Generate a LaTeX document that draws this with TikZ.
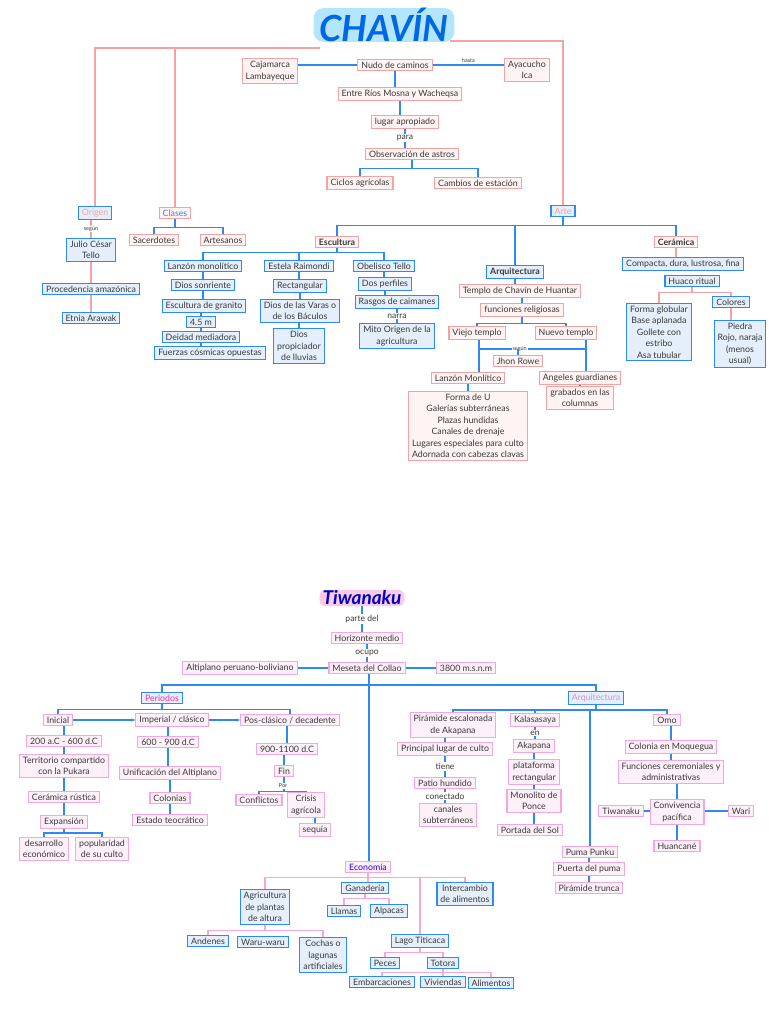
\documentclass[tikz,border=0pt]{standalone}
\usepackage{fontspec}
\setmainfont{Lato}
\usetikzlibrary{arrows.meta}
\definecolor{cpkd}{HTML}{F4A3A3}\definecolor{cpkf}{HTML}{FFF3F3}
\definecolor{cbld}{HTML}{2F8AF0}\definecolor{cblf}{HTML}{E4EFFB}
\definecolor{tpkd}{HTML}{F5A6DA}\definecolor{tpkf}{HTML}{FDF0F8}
\definecolor{txt}{HTML}{3A3A3A}
\tikzset{
 box/.style={draw,line width=1.1pt,inner xsep=3.5pt,inner ysep=2.5pt,align=center,text=txt,font=\fontsize{8.8}{11.5}\selectfont},
 cpk/.style={box,draw=cpkd,fill=cpkf},
 cbl/.style={box,draw=cbld,fill=cblf},
 tpk/.style={box,draw=tpkd,fill=tpkf},
 lbl/.style={text=txt,font=\fontsize{8.5}{10}\selectfont,inner sep=1pt},
 slbl/.style={text=txt,font=\fontsize{5.5}{6}\selectfont,inner sep=1pt,fill=white},
 pl/.style={draw=cpkd,line width=1.1pt},
 bl/.style={draw=cbld,line width=1.1pt},
 tl/.style={draw=tpkd,line width=1.1pt},
}
\newcommand\vl[3]{\draw[#1] (#2) -- (#2|-#3.north);}
\begin{document}
\begin{tikzpicture}[x=1pt,y=-1pt]
\useasboundingbox[fill=white] (0,0) rectangle (768,1024);
% ================= CHAVIN =================
\node[fill=cyan!30!white,rounded corners=10pt,inner xsep=6pt,inner ysep=0pt,text=blue!55!cyan!90!black,font=\fontsize{36}{40}\selectfont\bfseries\itshape] (chavin) at (384,25) {CHAVÍN};
\coordinate (tla) at (320,48);
\coordinate (tra) at (450,41);
\node[cpk] (caj) at (270,71) {Cajamarca\\Lambayeque};
\node[cpk] (nudo) at (395,65) {Nudo de caminos};
\node[cpk] (aya) at (527,70) {Ayacucho\\Ica};
\node[cpk] (rios) at (400,94) {Entre Ríos Mosna y Wacheqsa};
\node[cpk] (lugar) at (405,122) {lugar apropiado};
\node[cpk] (obs) at (412,154) {Observación de astros};
\node[cpk] (ciclos) at (360,183) {Ciclos agrícolas};
\node[cpk] (camb) at (478,183) {Cambios de estación};
\draw[bl] (caj.east|-nudo) -- (nudo.west);
\draw[bl] (nudo.east) -- node[slbl,above=1pt]{hasta} (aya.west|-nudo);
\vl{bl}{nudo}{rios}
\vl{bl}{rios}{lugar}
\draw[bl] (lugar) -- node[lbl,fill=white]{para} (lugar|-obs.north);
\draw[bl] (obs.south) -- ++(0,8) -| (ciclos);
\draw[bl] (obs.south) -- ++(0,8) -| (camb);

\node[cbl,text=cpkd] (origen) at (95,213) {Origen};
\node[cpk,text=cbld] (clases) at (175,213) {Clases};
\node[cbl,text=cpkd] (arte) at (563,211) {Arte};
\draw[pl] (tla) -| (origen);
\draw[pl] (tla) -| (clases);
\draw[pl] (tra) -| (arte);

\node[cbl] (julio) at (91,250) {Julio César\\Tello};
\node[cbl] (proc) at (91,289) {Procedencia amazónica};
\node[cbl] (etnia) at (91,318) {Etnia Arawak};
\draw[pl] (origen.south-|julio) -- node[slbl]{según} (julio.north);
\vl{pl}{julio}{proc}
\vl{pl}{proc}{etnia}

\node[cpk] (sac) at (154,240) {Sacerdotes};
\node[cpk] (art) at (223,240) {Artesanos};
\draw[bl] (clases.south) -- ++(0,8) -| (sac);
\draw[bl] (clases.south) -- ++(0,8) -| (art);

\node[cpk,font=\fontsize{8.8}{11.5}\selectfont\bfseries] (escul) at (337,242) {Escultura};
\node[cbl,font=\fontsize{8.8}{11.5}\selectfont\bfseries] (arq) at (515,272) {Arquitectura};
\node[cpk,font=\fontsize{8.8}{11.5}\selectfont\bfseries] (ceram) at (676,242) {Cerámica};
\draw[bl] (arte.south) -- ++(0,8) -| (escul);
\draw[bl] (arte.south) -- ++(0,8) -| (ceram);
\draw[bl] (arte.south) -- ++(0,8) -| (arq);

\node[cbl] (lanz) at (203,266) {Lanzón monolítico};
\node[cbl] (sonr) at (203,285) {Dios sonriente};
\node[cbl] (gran) at (204,306) {Escultura de granito};
\node[cbl] (m45) at (201,322) {4.5 m};
\node[cbl] (deid) at (201,337) {Deidad mediadora};
\node[cbl] (fuer) at (210,353) {Fuerzas cósmicas opuestas};
\node[cbl] (estela) at (299,266) {Estela Raimondi};
\node[cbl] (rect) at (300,286) {Rectangular};
\node[cbl] (varas) at (300,311) {Dios de las Varas o\\de los Báculos};
\node[cbl] (prop) at (299,346) {Dios\\propiciador\\de lluvias};
\node[cbl] (obel) at (384,266) {Obelisco Tello};
\node[cbl] (perf) at (385,284) {Dos perfiles};
\node[cbl] (rasg) at (397,302) {Rasgos de caimanes};
\node[cbl] (mito) at (397,336) {Mito Origen de la\\agricultura};
\foreach \n in {lanz,estela,obel} \draw[bl] (escul.south) -- ++(0,4) -| (\n);
\vl{bl}{lanz}{sonr} \vl{bl}{sonr}{gran} \vl{bl}{m45}{deid} \draw[bl] (gran.south-|m45)--(m45); \vl{bl}{deid}{fuer}
\vl{bl}{estela}{rect} \vl{bl}{rect}{varas} \draw[bl] (varas.south-|prop)--(prop);
\draw[bl] (obel)--(obel|-perf.north); \draw[bl] (perf.south)--(perf.south|-rasg.north);
\draw[bl] (rasg) -- node[lbl,fill=white]{narra} (rasg|-mito.north);

\node[cpk] (templo) at (520,291) {Templo de Chavín de Huantar};
\node[cpk] (func) at (522,310) {funciones religiosas};
\node[cpk] (viejo) at (477,333) {Viejo templo};
\node[cpk] (nuevo) at (566,333) {Nuevo templo};
\node[cpk] (jhon) at (518,361) {Jhon Rowe};
\node[cpk] (lanzm) at (468,378) {Lanzón Monlítico};
\node[cpk] (ang) at (580,378) {Angeles guardianes};
\node[cpk] (formau) at (468,426) {Forma de U\\Galerías subterráneas\\Plazas hundidas\\Canales de drenaje\\Lugares especiales para culto\\Adornada con cabezas clavas};
\node[cpk] (grab) at (580,398) {grabados en las\\columnas};
\vl{bl}{arq}{templo}
\draw[bl] (templo.south-|func) -- (func);
\draw[bl] (func.south) -- ++(0,6) -| (viejo);
\draw[bl] (func.south) -- ++(0,6) -| (nuevo);
\coordinate (sl) at (479,349); \coordinate (sr) at (586,349);
\draw[bl] (sl) -- node[slbl,pos=0.38]{según} (sr);
\draw[bl] (jhon.north) -- (jhon.north|-sl);
\draw[bl] (viejo.south-|sl) -- (sl|-lanzm.north);
\draw[bl] (nuevo.south-|sr) -- (sr|-ang.north);
\vl{bl}{lanzm}{formau}
\vl{bl}{ang}{grab}

\node[cbl] (comp) at (683,264) {Compacta, dura, lustrosa, fina};
\node[cbl] (huaco) at (692,281) {Huaco ritual};
\node[cbl] (glob) at (659,332) {Forma globular\\Base aplanada\\Gollete con\\estribo\\Asa tubular};
\node[cbl] (col) at (731,302) {Colores};
\node[cbl] (piedra) at (740,344) {Piedra\\Rojo, naraja\\(menos\\usual)};
\draw[pl] (ceram) -- (ceram|-comp.north);
\draw[pl] (huaco.south) -- ++(0,5) -| (glob);
\draw[pl] (huaco.south) -- ++(0,5) -| (col);
\draw[pl] (col.south) -- (col.south|-piedra.north);

% ================= TIWANAKU =================
\node[fill=tpkd!60,rounded corners=6pt,inner xsep=3pt,inner ysep=1pt,text=blue!75!black,font=\fontsize{19}{21}\selectfont\bfseries\itshape] (tiwa) at (362,598) {Tiwanaku};
\node[tpk] (hor) at (367,638) {Horizonte medio};
\node[tpk] (mes) at (367,668) {Meseta del Collao};
\node[tpk] (alt) at (240,668) {Altiplano peruano-boliviano};
\node[tpk] (m3800) at (466,668) {3800 m.s.n.m};
\draw[bl] (tiwa) -- node[lbl,fill=white]{parte del} (tiwa|-hor.north);
\draw[bl] (hor) -- node[lbl,fill=white]{ocupo} (hor|-mes.north);
\draw[bl] (alt)--(mes); \draw[bl] (mes)--(m3800);

\node[cbl,text=magenta!80] (per) at (162,698) {Periodos};
\node[cbl,text=violet!40] (tarq) at (596,698) {Arquitectura};
\node[tpk,text=blue!70!violet] (eco) at (368,867) {Economía};
\draw[bl] (mes.south) ++(2,0) coordinate (ms) -- (ms|-eco.north);
\draw[bl] (ms|-0,685) coordinate (mb) -| (per);
\draw[bl] (mb) -| (tarq);

\node[tpk] (ini) at (58,720) {Inicial};
\node[tpk] (imp) at (172,720) {Imperial / clásico};
\node[tpk] (pos) at (290,720) {Pos-clásico / decadente};
\draw[bl] (per.south) -- ++(0,5) -| (ini);
\draw[bl] (per.south) -- ++(0,5) -| (pos);
\draw[bl,-{Stealth[length=4pt]}] (ini) -- (imp);
\draw[bl,-{Stealth[length=4pt]}] (imp) -- (pos);
\node[tpk] (d200) at (64,741) {200 a.C - 600 d.C};
\node[tpk] (terr) at (64,766) {Territorio compartido\\con la Pukara};
\node[tpk] (cer) at (64,797) {Cerámica rústica};
\node[tpk] (exp) at (64,822) {Expansión};
\node[tpk] (des) at (44,849) {desarrollo\\económico};
\node[tpk] (pop) at (102,849) {popularidad\\de su culto};
\draw[bl] (ini.south-|d200)--(d200); \vl{bl}{d200}{terr} \vl{bl}{terr}{cer} \vl{bl}{cer}{exp}
\draw[bl] (exp.south) -- ++(0,4) -| (des); \draw[bl] (exp.south) -- ++(0,4) -| (pop);
\node[tpk] (d600) at (168,742) {600 - 900 d.C};
\node[tpk] (unif) at (170,773) {Unificación del Altiplano};
\node[tpk] (colo) at (170,798) {Colonias};
\node[tpk] (est) at (170,820) {Estado teocrático};
\draw[bl] (imp.south-|d600)--(d600); \vl{bl}{d600}{unif} \vl{bl}{unif}{colo} \vl{bl}{colo}{est}
\node[tpk] (d900) at (287,749) {900-1100 d.C};
\node[tpk] (fin) at (284,771) {Fin};
\node[tpk] (conf) at (259,800) {Conflictos};
\node[tpk] (cris) at (306,805) {Crisis\\agrícola};
\node[tpk] (seq) at (315,830) {sequía};
\draw[bl] (pos.south-|d900)--(d900); \draw[bl] (d900.south-|fin)--(fin);
\draw[bl] (fin.south) -- ++(0,14) coordinate (fp) -| (conf);
\draw[bl] (fp) -| (cris);
\node[slbl] at (283,786) {Por};
\draw[bl] (cris.south-|seq)--(seq);

\node[tpk] (pir) at (453,725) {Pirámide escalonada\\de Akapana};
\node[tpk] (prin) at (445,749) {Principal lugar de culto};
\node[tpk] (pat) at (445,783) {Patio hundido};
\node[tpk] (can) at (448,815) {canales\\subterráneos};
\draw[bl] (tarq.south) -- ++(0,5) -| (pir);
\draw[bl] (pir.south-|prin)--(prin);
\draw[bl] (prin) -- node[lbl,fill=white]{tiene} (prin|-pat.north);
\draw[bl] (pat) -- node[lbl,fill=white]{conectado} (pat|-can.north);
\node[tpk] (kal) at (535,720) {Kalasasaya};
\node[tpk] (aka) at (534,746) {Akapana};
\node[tpk] (plat) at (534,772) {plataforma\\rectangular};
\node[tpk] (mon) at (534,801) {Monolito de\\Ponce};
\node[tpk] (port) at (530,830) {Portada del Sol};
\draw[bl] (tarq.south) -- ++(0,5) -| (kal);
\draw[bl] (kal) -- node[lbl,fill=white]{en} (kal|-aka.north);
\vl{bl}{aka}{plat} \vl{bl}{plat}{mon} \draw[bl] (mon.south)--(mon.south|-port.north);
\node[tpk] (omo) at (667,720) {Omo};
\node[tpk] (colm) at (671,747) {Colonia en Moquegua};
\node[tpk] (fce) at (671,772) {Funciones ceremoniales y\\administrativas};
\node[tpk] (conv) at (677,812) {Convivencia\\pacífica};
\node[tpk] (tiw) at (621,811) {Tiwanaku};
\node[tpk] (wari) at (741,811) {Wari};
\node[tpk] (hua) at (677,846) {Huancané};
\draw[bl] (tarq.south) -- ++(0,5) -| (omo);
\draw[bl] (omo.south-|colm)--(colm); \vl{bl}{colm}{fce} \draw[bl] (fce.south-|conv)--(conv);
\draw[bl] (tiw.east)--(conv.west|-tiw); \draw[bl] (conv.east|-wari)--(wari.west); \vl{bl}{conv}{hua}
\node[tpk] (puma) at (590,852) {Puma Punku};
\node[tpk] (puer) at (589,869) {Puerta del puma};
\node[tpk] (trun) at (589,888) {Pirámide trunca};
\draw[bl] (tarq.south) -- ++(0,5) -| (puma);
\draw[bl] (puma.south-|puer)--(puer); \vl{bl}{puer}{trun}

\node[cbl] (agri) at (265,907) {Agricultura\\de plantas\\de altura};
\node[cbl] (gan) at (365,888) {Ganadería};
\node[cbl] (llam) at (344,911) {Llamas};
\node[cbl] (alp) at (389,911) {Alpacas};
\node[cbl] (inter) at (465,894) {Intercambio\\de alimentos};
\node[cbl] (lago) at (420,941) {Lago Titicaca};
\draw[tl] (eco.south) -- ++(0,4) -| (agri);
\draw[tl] (eco.south) -- ++(0,4) -| (inter.north);
\draw[tl] (eco.south) -- (eco.south|-gan.north);
\draw[tl] (eco.south) -- ++(0,4) -| (lago);
\draw[tl] (gan.south) -- ++(0,4) -| (llam); \draw[tl] (gan.south) -- ++(0,4) -| (alp);
\node[cbl] (and) at (208,941) {Andenes};
\node[cbl] (waru) at (263,942) {Waru-waru};
\node[cbl] (coch) at (323,955) {Cochas o\\lagunas\\artificiales};
\draw[tl] (agri.south) -- ++(0,6) -| (and); \draw[tl] (agri.south) -- ++(0,6) -| (coch);
\node[cbl] (pec) at (385,963) {Peces};
\node[cbl] (tot) at (443,963) {Totora};
\draw[tl] (lago.south) -- ++(0,4) -| (pec); \draw[tl] (lago.south) -- ++(0,4) -| (tot);
\node[cbl] (emb) at (382,982) {Embarcaciones};
\node[cbl] (viv) at (443,982) {Viviendas};
\node[cbl] (ali) at (491,983) {Alimentos};
\draw[tl] (tot.south) -- ++(0,3) -| (emb); \draw[tl] (tot.south) -- ++(0,3) -| (ali); \draw[tl] (tot)--(viv);
\end{tikzpicture}
\end{document}
